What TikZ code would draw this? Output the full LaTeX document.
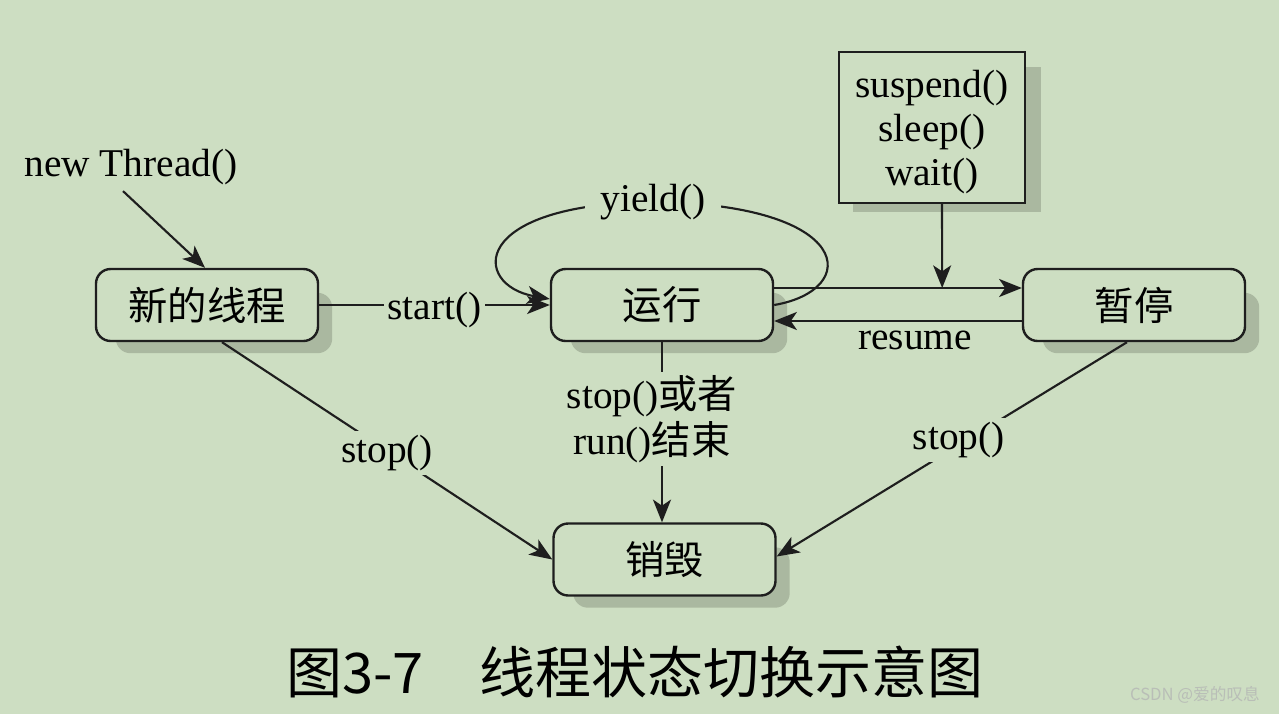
\documentclass[tikz,border=0pt]{standalone}
\usepackage{fontspec}
\setmainfont{Liberation Serif}
\newfontfamily\cjk{Noto Sans CJK SC}
\usetikzlibrary{arrows.meta,calc}
\definecolor{bgc}{RGB}{205,222,194}
\definecolor{shc}{RGB}{170,184,160}
\definecolor{inkc}{RGB}{30,30,30}
\definecolor{wmc}{RGB}{185,190,183}
\pgfdeclarelayer{bglayer}
\pgfdeclarelayer{shlayer}
\pgfsetlayers{bglayer,shlayer,main}
\tikzset{
  state/.style={draw=inkc, line width=1.8pt, rounded corners=11pt,
    minimum width=166.5pt, minimum height=54pt, fill=bgc,
    font=\cjk\fontsize{29.5}{34}\selectfont, inner sep=0pt},
  arr/.style={line width=1.6pt, draw=inkc,
    -{Stealth[length=17pt,width=13.5pt,inset=4.5pt]}},
  lab/.style={fill=bgc, font=\fontsize{29.5}{35}\selectfont, inner sep=3pt},
  txt/.style={font=\fontsize{29.5}{35}\selectfont, inner sep=0pt},
}
\begin{document}
\begin{tikzpicture}[x=0.75pt,y=-0.75pt]
\begin{pgfonlayer}{bglayer}
  \fill[bgc] (0,0) rectangle (1279,714);
\end{pgfonlayer}
\useasboundingbox (0,0) rectangle (1279,714);

% states
\node[state] (new) at (207,305) {新的线程};
\node[state] (run) at (662,305) {运行};
\node[state] (pause) at (1134,305) {暂停};
\node[state] (destroy) at (664.5,559.5) {销毁};
\node[draw=inkc, line width=1.8pt, minimum width=139.5pt, minimum height=113.25pt,
      fill=bgc, inner sep=0pt] (susp) at (932,127.5) {};
\node[align=center, inner sep=0pt, font=\fontsize{29.5}{33}\selectfont]
      (susptxt) at (932,132) {suspend()\\sleep()\\wait()};

% shadows
\begin{pgfonlayer}{shlayer}
  \foreach \n in {new,run,pause,destroy}
    \fill[shc, rounded corners=11pt] ($(\n.south west)+(21,11)$) rectangle ($(\n.north east)+(13,25)$);
  \fill[shc] ($(susp.south west)+(15,8)$) rectangle ($(susp.north east)+(15,16)$);
\end{pgfonlayer}

% new Thread()
\node[txt] (nt) at (131,167) {new Thread()};
\coordinate (ntstart) at ($(nt.south)+(-8,6)$);
\draw[arr] (ntstart) -- ($(new.north)+(-2,0)$);

% start()
\draw[arr] (new.east) -- node[lab, yshift=-3.5pt]{start()} (run.west);

% yield loop
\draw[arr] (run.east) .. controls (862,290) and (855,204) .. (653,202)
  node[lab, inner xsep=12pt, inner ysep=1pt]{yield()}
  .. controls (468,204) and (472,285) .. ($(run.west)+(0,-6)$);

% run <-> pause
\draw[arr] ($(run.east)+(0,-17)$) -- ($(pause.west)+(0,-17)$);
\draw[arr] ($(pause.west)+(0,16)$) -- ($(run.east)+(0,16)$);
\node[txt] (res) at (915,340) {resume};

% suspend arrow
\coordinate (sj) at ($(run.east)+(168,-17)$);
\draw[arr] ($(susp.south)+(10,0)$) -- (sj);

% stop() from run
\draw[arr] (run.south) -- node[lab, pos=0.42, xshift=-7.5pt, yshift=-1pt, align=center, inner ysep=2pt]
  {stop(){\cjk 或者}\\run(){\cjk 结束}} (run.south |- destroy.north);

% stop() from new
\draw[arr] ($(new.south)+(15,0)$) -- node[lab, pos=0.5, yshift=-1.5pt]{stop()} (destroy.west);

% stop() from pause
\draw[arr] ($(pause.south)+(-7,0)$) -- node[lab, pos=0.48, yshift=4pt]{stop()} ($(destroy.east)+(0,-3)$);

% caption
\node[font=\cjk\fontsize{42}{48}\selectfont, inner sep=0pt] (cap) at (635,672)
  {图3-7　线程状态切换示意图};

% watermark
\node[font=\cjk\fontsize{12.5}{14}\selectfont, text=wmc, inner sep=0pt] (wm) at (1195,695)
  {CSDN @爱的叹息};
\end{tikzpicture}
\end{document}
